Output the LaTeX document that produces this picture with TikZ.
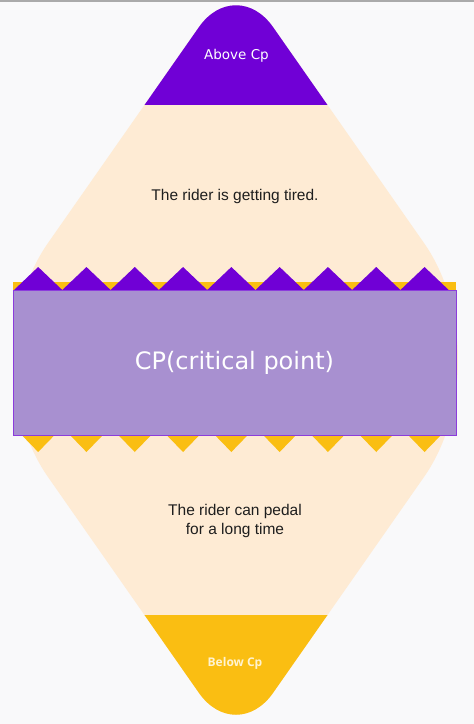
\documentclass[tikz,border=0pt]{standalone}
\usepackage{fontspec}
\setmainfont{Liberation Sans}
\newfontfamily\comicfont{DejaVu Sans}
\newfontfamily\capfont{Open Sans}
\usepackage{tikz}

\definecolor{pagebg}{RGB}{249,249,250}
\definecolor{topline}{RGB}{170,170,170}
\definecolor{peach}{RGB}{254,235,212}
\definecolor{capviolet}{RGB}{112,0,214}
\definecolor{capyellow}{RGB}{250,190,18}
\definecolor{cpfill}{RGB}{168,144,208}
\definecolor{cpline}{RGB}{140,60,220}
\definecolor{bodytext}{RGB}{30,30,30}
\definecolor{belowtext}{RGB}{255,243,208}

\tikzset{
  cpbox/.style={draw=cpline, fill=cpfill, line width=1pt, inner sep=0pt,
    minimum width=443pt, minimum height=145pt, text=white,
    font=\comicfont\fontsize{24}{28}\selectfont},
  captext/.style={text=white, font=\comicfont\fontsize{13.5}{16}\selectfont},
  bodytxt/.style={text=bodytext, align=center,
    font=\fontsize{15.5}{19}\selectfont}
}

% outline of the rounded rhombus
\def\rhombus{(198.8,27.3) .. controls (219.3,-2.1) and (252.7,-2.1) .. (273.2,27.3)
  -- (424,243) .. controls (469.3,307.6) and (469.3,412.4) .. (424,477)
  -- (273.2,692.7) .. controls (252.7,722.1) and (219.3,722.1) .. (198.8,692.7)
  -- (48,477) .. controls (2.7,412.4) and (2.7,307.6) .. (48,243) -- cycle}

\begin{document}
\begin{tikzpicture}[x=1pt,y=-1pt]

  \fill[pagebg] (0,0) rectangle (474,724);
  \useasboundingbox (0,0) rectangle (474,724);
  \fill[topline] (0,0) rectangle (474,2);

  % body and the two caps
  \fill[peach] \rhombus;
  \begin{scope}
    \clip \rhombus;
    \fill[capviolet] (0,0) rectangle (474,105);
    \fill[capyellow] (0,615) rectangle (474,724);
  \end{scope}

  % zigzag above the band
  \fill[capyellow] (13,282) rectangle (456,290);
  \foreach \i in {0,...,8}
    \fill[capviolet] ({14+48.3*\i},290) -- ++(24.15,-23) -- ++(24.15,23) -- cycle;

  % teeth below the band
  \foreach \i in {0,...,8}
    \fill[capyellow] ({21.65+48.3*\i},435) -- ++(16.5,17) -- ++(16.5,-17) -- cycle;

  \node[cpbox] (cp) at (234.5,362.5) {CP(critical point)};

  \node[captext] (above) at (236.5,56) {Above Cp};
  \node[captext, text=belowtext, font=\capfont\bfseries\fontsize{12}{14}\selectfont] (below) at (235,663) {Below Cp};

  \node[bodytxt] (tired) at (235,196) {The rider is getting tired.};
  \node[bodytxt] (pedal) at (235,521) {The rider can pedal\\ for a long time};

\end{tikzpicture}
\end{document}
